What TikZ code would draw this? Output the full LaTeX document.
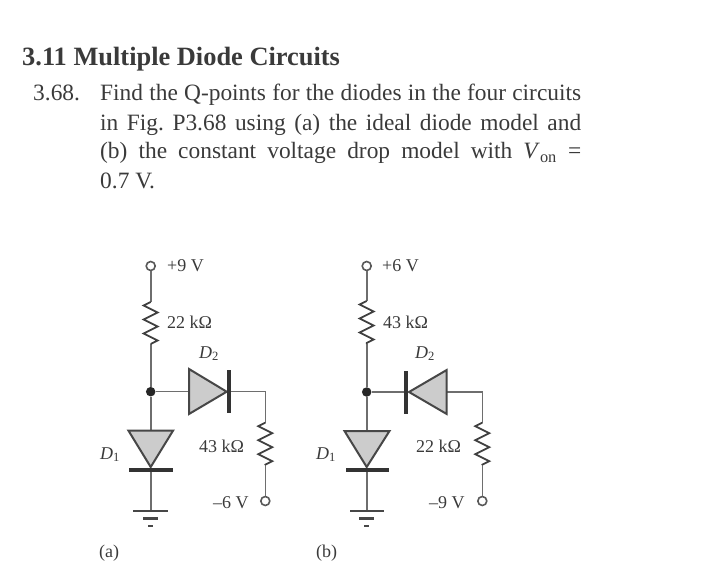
\documentclass[tikz,border=0pt]{standalone}
\usepackage{fontspec}
\setmainfont{Liberation Serif}
\usetikzlibrary{decorations.pathmorphing}
\definecolor{inkgray}{HTML}{3A3A3A}
\definecolor{wiregray}{HTML}{6E6E6E}
\tikzset{
  wire/.style={wiregray, line width=2pt},
  thinwire/.style={wiregray, line width=1.4pt},
  resistor/.style={black!75, line width=1.8pt, decorate, decoration={zigzag, mirror, segment length=14pt, amplitude=7pt}},
  terminal/.style={circle, draw=black!65, line width=1.6pt, fill=white, inner sep=0pt, minimum size=9pt},
  junction/.style={circle, fill=black!85, inner sep=0pt, minimum size=9.5pt},
  diode/.style={draw=black!72, fill=black!20, line width=2pt, line join=miter},
  bar/.style={black!80, line width=3.2pt},
  gnd/.style={black!72, line width=2.2pt},
  lab/.style={inkgray, font=\fontsize{18}{21}\selectfont, anchor=base west, inner sep=0pt},
  body/.style={inkgray, font=\fontsize{23.4}{29}\selectfont, anchor=base west, inner sep=0pt}
}
\begin{document}
\frenchspacing
\begin{tikzpicture}[x=1pt, y=-1pt]
  \useasboundingbox (0,0) rectangle (714,575);
  % text block
  \node (title) [body, font=\fontsize{26.4}{30}\bfseries] at (22,66) {3.11 Multiple Diode Circuits};
  \node (number) [body] at (33,101) {3.68.};
  \node (problem) [body, text width=481pt, align=justify] at (100,101) {Find the Q-points for the diodes in the four circuits\linebreak in Fig. P3.68 using (a) the ideal diode model and\linebreak (b) the constant voltage drop model with \textit{V}\textsubscript{on} =\linebreak 0.7 V.};
  % circuit (a)
  \node (topa) [terminal] at (150.7,266) {};
  \node (juna) [junction] at (150.7,391.7) {};
  \node (bota) [terminal] at (265.3,501) {};
  \coordinate (ratop) at (150.7,302);
  \coordinate (rabot) at (150.7,344);
  \coordinate (rbtop) at (265.3,422.7);
  \coordinate (rbbot) at (265.3,465);
  \coordinate (corna) at (265.3,391.7);
  \coordinate (dtwoain) at (189,391.7);
  \coordinate (dtwoaout) at (229,391.7);
  \coordinate (doneain) at (150.7,430.7);
  \coordinate (doneaout) at (150.7,470);
  \coordinate (gnda) at (150.7,511);
  \draw[wire] (topa) -- (ratop) (rabot) -- (juna) -- (doneain) (doneaout) -- (gnda);
  \draw[thinwire] (juna) -- (dtwoain) (dtwoaout) -- (corna) -- (rbtop) (rbbot) -- (bota);
  \draw[resistor] (ratop) -- (rabot);
  \draw[resistor] (rbtop) -- (rbbot);
  \draw[diode] (189,369) -- (226.7,391.7) -- (189,414) -- cycle;
  \draw[bar] (229,370) -- (229,413);
  \draw[diode] (128.5,430.7) -- (173,430.7) -- (150.7,467) -- cycle;
  \draw[bar] (129,470) -- (173,470);
  \draw[gnd] (133,511) -- (168,511) (143,518.5) -- (158,518.5) (148,526) -- (153,526);
  \node (vtopa) [lab] at (167,271) {+9 V};
  \node (rtopa) [lab] at (167,328) {22 kΩ};
  \node (dtwoa) [lab] at (199,358) {\textit{D}\textsubscript{2}};
  \node (donea) [lab] at (100,459) {\textit{D}\textsubscript{1}};
  \node (rbota) [lab] at (199,452.5) {43 kΩ};
  \node (vbota) [lab] at (213,508.5) {--6 V};
  \node (capa) [lab] at (99,557) {(a)};
  % circuit (b)
  \node (topb) [terminal] at (366.7,266) {};
  \node (junb) [junction] at (366.7,392) {};
  \node (botb) [terminal] at (482.3,501) {};
  \coordinate (rctop) at (366.7,301);
  \coordinate (rcbot) at (366.7,344);
  \coordinate (rdtop) at (482.3,422.7);
  \coordinate (rdbot) at (482.3,465);
  \coordinate (cornb) at (482.3,392);
  \coordinate (dtwobin) at (406,392);
  \coordinate (dtwobout) at (446.7,392);
  \coordinate (donebin) at (366.7,431);
  \coordinate (donebout) at (366.7,470);
  \coordinate (gndb) at (366.7,511);
  \draw[wire] (topb) -- (rctop) (rcbot) -- (junb) -- (donebin) (donebout) -- (gndb);
  \draw[thinwire] (junb) -- (dtwobin) (dtwobout) -- (cornb) -- (rdtop) (rdbot) -- (botb);
  \draw[resistor] (rctop) -- (rcbot);
  \draw[resistor] (rdtop) -- (rdbot);
  \draw[diode] (446.7,370) -- (409,392) -- (446.7,414) -- cycle;
  \draw[bar] (406,371) -- (406,414);
  \draw[diode] (344.5,431) -- (389.5,431) -- (366.7,467) -- cycle;
  \draw[bar] (346,470) -- (389,470);
  \draw[gnd] (350,511) -- (384,511) (359,518.5) -- (374,518.5) (364,526) -- (369,526);
  \node (vtopb) [lab] at (382,271) {+6 V};
  \node (rtopb) [lab] at (383,328) {43 kΩ};
  \node (dtwob) [lab] at (415,358) {\textit{D}\textsubscript{2}};
  \node (doneb) [lab] at (316,459) {\textit{D}\textsubscript{1}};
  \node (rbotb) [lab] at (416,452.5) {22 kΩ};
  \node (vbotb) [lab] at (429,508.5) {--9 V};
  \node (capb) [lab] at (316,557) {(b)};
\end{tikzpicture}
\end{document}
